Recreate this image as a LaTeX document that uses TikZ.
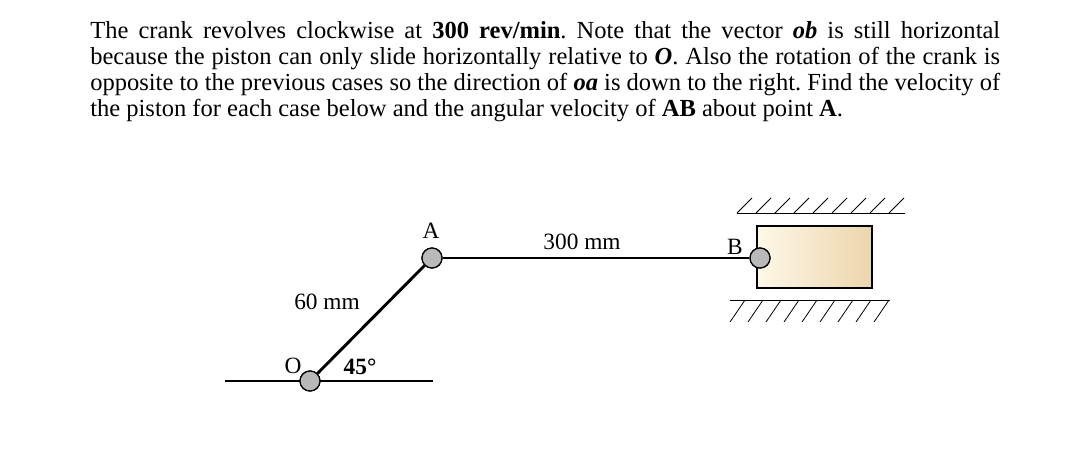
\documentclass[tikz,border=0pt]{standalone}
\usepackage{fontspec}
\setmainfont{Liberation Serif}
\definecolor{camL}{RGB}{253,248,232}
\definecolor{camR}{RGB}{236,214,170}
\begin{document}
\begin{tikzpicture}[x=0.75pt,y=-0.75pt,
  pin/.style={circle,draw=black,fill=gray!55,line width=0.9pt,minimum size=15pt,inner sep=0pt},
  lbl/.style={font=\fontsize{17.5pt}{19pt}\selectfont,inner sep=0pt},
  hatch/.style={line width=0.6pt}]
\useasboundingbox (0,0) rectangle (1080,466);
\node[anchor=north west,text width=682.5pt,align=justify,inner sep=0pt,font=\frenchspacing\fontsize{18.4pt}{19.5pt}\selectfont] (txt) at (90,21)
{The crank revolves clockwise at \textbf{300 rev/min}. Note that the vector \textbf{\textit{ob}} is still horizontal\linebreak because the piston can only slide horizontally relative to \textbf{\textit{O}}. Also the rotation of the crank is\linebreak opposite to the previous cases so the direction of \textbf{\textit{oa}} is down to the right. Find the velocity of\linebreak the piston for each case below and the angular velocity of \textbf{AB} about point \textbf{A}.};
% ground
\coordinate (g1) at (225,381); \coordinate (g2) at (433,381);
\draw[line width=1.6pt] (g1) -- (g2);
% piston box
\shade[left color=camL,right color=camR] (757,226) rectangle (872,288);
\node[draw=black,line width=1.6pt,minimum width=86pt,minimum height=46.5pt,inner sep=0pt] (box) at (814.5,257) {};
% rails with hatching
\coordinate (t1) at (737,213); \coordinate (t2) at (905,213);
\draw[hatch] (t1) -- (t2);
\foreach \i in {0,...,8} \draw[hatch] (737+\i*19,213) -- (752+\i*19,198);
\coordinate (b1) at (730,300); \coordinate (b2) at (890,300);
\draw[hatch] (b1) -- (b2);
\foreach \i in {0,...,8} \draw[hatch] (745+\i*18,300) -- (730+\i*18,322);
% links
\node[pin] (O) at (310,381) {};
\node[pin] (A) at (432,258) {};
\node[pin] (B) at (760,258) {};
\draw[line width=2.2pt] (O) -- (A);
\draw[line width=1.6pt] (A) -- (B);
\node[pin] at (O) {};
\node[pin] at (A) {};
\node[pin] at (B) {};
% labels
\node[lbl] (lA) at (431,231) {A};
\node[lbl] (l300) at (582,242) {300 mm};
\node[lbl] (lB) at (735,247) {B};
\node[lbl] (l60) at (327,302) {60 mm};
\node[lbl] (lO) at (293,366) {O};
\node[lbl,font=\bfseries\fontsize{17.5pt}{19pt}\selectfont] (l45) at (360,367) {45°};
\end{tikzpicture}
\end{document}
